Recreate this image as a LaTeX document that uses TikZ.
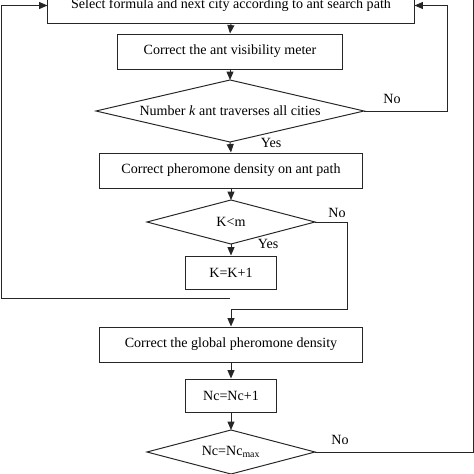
\documentclass[tikz,border=0pt]{standalone}
\usepackage{fontspec}
\setmainfont{Liberation Serif}
\usetikzlibrary{arrows.meta,positioning}

\begin{document}
\begin{tikzpicture}[
    x=0.025cm, y=-0.025cm,
    arr/.style={-{Triangle[length=6pt,width=5pt]}, line width=0.7pt, black!85},
    line/.style={line width=0.7pt, black!85},
    procbox/.style={draw=black!85, line width=0.7pt, rectangle, minimum height=0.875cm, inner sep=2pt},
    decide/.style={rectangle, inner sep=0pt, outer sep=0pt},
    lbl/.style={font=\normalsize, inner sep=0pt},
  ]
  \useasboundingbox (0,0) rectangle (474,474);

  % Main column
  \node[procbox, minimum width=9.15cm] (sel) at (231,5.5)
    {Select formula and next city according to ant search path};
  \node[procbox, minimum width=5.6cm] (vis) at (230,51.5)
    {Correct the ant visibility meter};
  \node[decide, minimum width=6.7cm, minimum height=1.55cm] (trav) at (230,111)
    {Number \textit{k} ant traverses all cities};
  \node[procbox, minimum width=6.55cm] (path) at (231,170.5)
    {Correct pheromone density on ant path};
  \node[decide, minimum width=4.2cm, minimum height=1.1cm] (km) at (231,222) {K<m};
  \node[procbox, minimum width=2.25cm, minimum height=0.825cm] (inck) at (231,272.5) {K=K+1};
  \node[procbox, minimum width=6.55cm] (glob) at (231,344.5)
    {Correct the global pheromone density};
  \node[procbox, minimum width=2.25cm, minimum height=0.825cm] (incn) at (231,395.5) {Nc=Nc+1};
  \node[decide, minimum width=4.2cm, minimum height=1.1cm] (ncmax) at (231,452)
    {Nc=Nc\textsubscript{max}};

  % Diamond outlines
  \foreach \d in {trav,km,ncmax} {
    \draw[line] (\d.north) -- (\d.east) -- (\d.south) -- (\d.west) -- cycle;
  }

  % Straight arrows
  \draw[arr] (sel.south) -- (vis.north);
  \draw[arr] (vis.south) -- (trav.north);
  \draw[arr] (trav.south) -- (path.north);
  \draw[arr] (path.south) -- (km.north);
  \draw[arr] (km.south) -- (inck.north);
  \draw[arr] (glob.south) -- (incn.north);
  \draw[arr] (incn.south) -- (ncmax.north);

  % Loops
  \coordinate (kback) at (230,298);
  \coordinate (lft) at (1,298);
  \draw[arr] (kback) -- (lft) |- (sel.west);
  \coordinate (rgt) at (447,111);
  \draw[arr] (trav.east) -- (rgt) |- (sel.east);
  \coordinate (kno) at (347,309);
  \draw[arr] (km.east) -| (kno) -| (glob.north);
  \coordinate (ncno) at (473.5,452);
  \draw[line] (ncmax.east) -- (ncno) -- (473.5,-20);

  % Branch labels
  \node[lbl] (no1) at (392,99) {No};
  \node[lbl] (yes1) at (271,143) {Yes};
  \node[lbl] (no2) at (337,213) {No};
  \node[lbl] (yes2) at (268,244) {Yes};
  \node[lbl] (no3) at (340,440) {No};

\end{tikzpicture}
\end{document}
